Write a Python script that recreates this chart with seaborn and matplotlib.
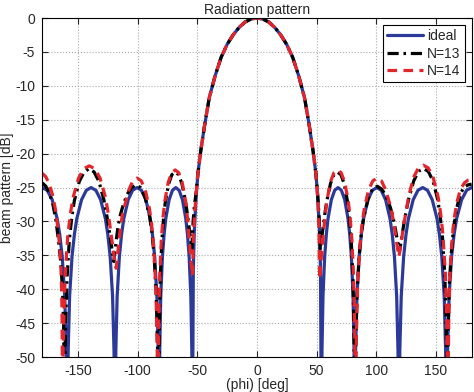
import pandas as pd
import seaborn as sns
import matplotlib.pyplot as plt

# values (phi in deg, beam pattern in dB)
ideal_phi = [-180, -175.8, -171.6, -167.4, -165.3, -163.2, -161.1, -159.84, -159,
             -158.2, -157, -155, -153, -151, -147, -143, -139, -135, -131, -127, -125, -123, -121, -119.8, -119,
             -118.26, -117.15, -115.3, -113.45, -111.6, -107.9, -104.2, -100.5, -96.8, -93.1, -89.4, -87.55,
             -85.7, -83.85, -82.74, -82,
             -81.44, -80.6, -79.2, -77.8, -76.4, -73.6, -70.8, -68, -65.2, -62.4, -59.6, -58.2, -56.8, -55.4,
             -54.56, -54,
             -53.3, -52.5, -51, -49.5, -47, -44, -40, -35, -30, -25, -20, -15, -10, -5, 0,
             5, 10, 15, 20, 25, 30, 35, 40, 44, 47, 49.5, 51, 52.5, 53.3, 54,
             54.56, 55.4, 56.8, 58.2, 59.6, 62.4, 65.2, 68, 70.8, 73.6, 76.4, 77.8, 79.2, 80.6, 81.44, 82,
             82.74, 83.85, 85.7, 87.55, 89.4, 93.1, 96.8, 100.5, 104.2, 107.9, 111.6, 113.45, 115.3, 117.15,
             118.26, 119,
             119.8, 121, 123, 125, 127, 131, 135, 139, 143, 147, 151, 153, 155, 157, 158.2, 159,
             159.84, 161.1, 163.2, 165.3, 167.4, 171.6, 175.8, 180]
ideal_db = [-25, -25.4, -26.8, -29.6, -31.9, -35.2, -41, -49, -60,
            -49, -41, -35.2, -31.9, -29.6, -26.8, -25.4, -25, -25.4, -26.8, -29.6, -31.9, -35.2, -41, -49, -60,
            -49, -41, -35.2, -31.9, -29.6, -26.8, -25.4, -25, -25.4, -26.8, -29.6, -31.9,
            -35.2, -41, -49, -60,
            -49, -41, -35.2, -31.9, -29.6, -26.8, -25.4, -25, -25.4, -26.8, -29.6, -31.9, -35.2, -41,
            -49, -60,
            -37, -31.5, -26.5, -23, -19.5, -16, -11.8, -8.5, -5.8, -3.9, -2.5, -1.4, -0.6, -0.15, 0,
            -0.15, -0.6, -1.4, -2.5, -3.9, -5.8, -8.5, -11.8, -16, -19.5, -23, -26.5, -31.5, -37, -60,
            -49, -41, -35.2, -31.9, -29.6, -26.8, -25.4, -25, -25.4, -26.8, -29.6, -31.9, -35.2, -41, -49, -60,
            -49, -41, -35.2, -31.9, -29.6, -26.8, -25.4, -25, -25.4, -26.8, -29.6, -31.9, -35.2, -41,
            -49, -60,
            -49, -41, -35.2, -31.9, -29.6, -26.8, -25.4, -25, -25.4, -26.8, -29.6, -31.9, -35.2, -41, -49, -60,
            -49, -41, -35.2, -31.9, -29.6, -26.8, -25.4, -25]

n13_phi = [-180, -177, -174, -171, -168.5, -166.5, -164.5, -163, -162, -161.3,
           -160.5, -159.2, -157.2, -155.1, -153, -148.9, -144.8, -140.6, -136.5, -132.4, -128.3, -126.2,
           -124.1, -122, -120,
           -118.1, -116.3, -114.4, -112.5, -108.8, -105, -101.3, -97.5, -93.8, -90, -88.1, -86.3, -84.4,
           -83.3, -82.5,
           -81.9, -81.1, -79.7, -78.3, -76.9, -74.1, -71.3, -68.5, -65.7, -62.9, -60.1, -58.7, -57.3,
           -55.9, -54.5,
           -53.5, -52.3, -51, -49.5, -47, -44, -40, -35, -30, -25, -20, -15, -10, -5, 0,
           5, 10, 15, 20, 25, 30, 35, 40, 44, 47, 49.5, 51, 52.2, 53,
           54.45, 55.9, 57.35, 58.8, 61.7, 64.6, 67.5, 70.4, 73.3, 76.2, 77.65, 79.1, 80.55, 81.4, 82,
           82.75, 83.9, 85.75, 87.6, 89.5, 93.25, 97, 100.75, 104.5, 108.25, 112, 113.9, 115.75, 117.6,
           119.5,
           121.5, 123.5, 125.5, 127.5, 131.5, 135.5, 139.55, 143.6, 147.6, 151.6, 153.6, 155.6, 157.6,
           158.8, 159.6,
           160.4, 161.4, 162.8, 164.8, 167.3, 170.3, 173.8, 177, 180]
n13_db = [-24.3, -24.8, -25.8, -27.5, -29.8, -32.6, -35.8, -40, -45.5, -58,
          -46, -38.4, -32.6, -29.3, -26.9, -24.1, -22.7, -22.2, -22.7, -24.1, -26.8, -28.7,
          -31, -33.5, -35.9,
          -33, -30.6, -29, -27.8, -26, -25, -24.6, -25, -26.4, -29.2, -31.5, -34.8, -40.6,
          -48.6, -58,
          -46.7, -38.7, -32.9, -29.6, -27.3, -24.5, -23.1, -22.7, -23.1, -24.4, -26.8, -28.4, -30.3,
          -32.2, -34,
          -30, -27.5, -25.8, -23, -19.5, -16, -11.8, -8.5, -5.8, -3.9, -2.5, -1.4, -0.6, -0.15, 0,
          -0.15, -0.6, -1.4, -2.5, -3.9, -5.8, -8.5, -11.8, -16, -19.5, -23, -26.2, -29.5, -34.2,
          -32.2, -30.3, -28.4, -26.8, -24.4, -23.1, -22.7, -23.1, -24.5, -27.3, -29.6, -32.9, -38.7, -46.7, -58,
          -48.8, -40.8, -35, -31.7, -29.4, -26.6, -25.2, -24.8, -25.2, -26.2, -28, -29.2, -30.8, -32.6,
          -34.5,
          -32.2, -30, -28.1, -26.5, -24, -22.6, -22.2, -22.6, -24, -26.8, -29.1, -32.4, -38.2,
          -46.2, -58,
          -45.5, -39, -35, -31, -28.2, -26, -24.9, -24.6, -24.5]

n14_phi = [-180, -177, -174, -171, -168.5, -166.5, -165, -164, -163.4, -163,
           -162.1, -160.75, -158.5, -156.25, -154, -149.5, -145, -140.5, -136, -131.5, -127, -124.75,
           -122.5, -120.25, -118,
           -116.25, -114.5, -112.75, -111, -107.5, -104, -100.5, -97, -93.5, -90, -88.25, -86.5, -84.75,
           -83.7, -83,
           -82.42, -81.55, -80.1, -78.65, -77.2, -74.3, -71.4, -68.5, -65.6, -62.7, -59.8, -58.35, -56.9,
           -55.45, -54,
           -53.2, -52, -51, -49.5, -47, -44, -40, -35, -30, -25, -20, -15, -10, -5, 0,
           5, 10, 15, 20, 25, 30, 35, 40, 44, 47, 49.5, 51, 52, 52.6,
           54.1, 55.6, 57.1, 58.6, 61.6, 64.6, 67.6, 70.6, 73.6, 76.6, 78.1, 79.6, 81.1, 82, 82.6,
           83.3, 84.4, 86.24, 88.06, 89.9, 93.5, 97.2, 100.8, 104.4, 108.1, 111.7, 113.5, 115.4, 117.2,
           119,
           121, 123.1, 125.2, 127.2, 131.3, 135.4, 139.5, 143.6, 147.7, 151.8, 153.9, 155.9, 158,
           159.2, 160,
           160.8, 161.8, 163, 165, 167.5, 170.5, 174, 177, 180]
n14_db = [-22.9, -23.4, -24.5, -26.3, -28.6, -31.5, -34.5, -38, -43, -55,
          -46, -38, -32, -28.7, -26.4, -23.6, -22.2, -21.8, -22.2, -23.6, -26.4, -28.7,
          -31.5, -34.5, -36.9,
          -34, -31, -29, -27.8, -25.4, -24, -23.6, -24, -25.4, -28.2, -30.5, -33.8, -39.6,
          -47.6, -58,
          -46.4, -38.4, -32.6, -29.3, -27, -24.2, -22.8, -22.4, -22.8, -24.2, -27, -29.3, -32.3,
          -35.5, -38,
          -32, -28.5, -26, -23, -19.5, -16, -11.8, -8.5, -5.8, -3.9, -2.5, -1.4, -0.6, -0.15, 0,
          -0.15, -0.6, -1.4, -2.5, -3.9, -5.8, -8.5, -11.8, -16, -19.5, -23, -26.5, -30.5, -38.5,
          -35, -32, -29.3, -27, -24.2, -22.8, -22.4, -22.8, -24.2, -27, -29.3, -32.6, -38.4, -46.4, -58,
          -47.6, -39.6, -33.8, -30.5, -28.2, -25.4, -24, -23.6, -24, -25.4, -27.6, -29, -31, -33.2,
          -35.2,
          -33, -30.5, -28.3, -26.3, -23.5, -22.1, -21.7, -22.1, -23.5, -26.3, -28.6, -31.9, -37.7,
          -45.7, -58,
          -45, -38, -34, -30, -27.3, -25.3, -24.3, -23.9, -23.8]

series = ['ideal', 'N=13', 'N=14']
colors = {'ideal': '#2b3a98', 'N=13': '#000000', 'N=14': '#e3262c'}
dashes = {'ideal': '', 'N=13': (3.5, 1.5, 0.8, 1.5), 'N=14': (3, 2)}

df = pd.concat([
    pd.DataFrame({'phi': ideal_phi, 'dB': ideal_db, 'series': 'ideal'}),
    pd.DataFrame({'phi': n13_phi, 'dB': n13_db, 'series': 'N=13'}),
    pd.DataFrame({'phi': n14_phi, 'dB': n14_db, 'series': 'N=14'}),
], ignore_index=True)

sns.set_style('ticks')
plt.rcParams['font.family'] = ['Liberation Sans', 'DejaVu Sans']
plt.rcParams['axes.unicode_minus'] = False

fig = plt.figure(figsize=(4.74, 3.92), dpi=100)
ax = fig.add_axes([0.089, 0.089, 0.906, 0.865])

sns.lineplot(data=df, x='phi', y='dB', hue='series', style='series',
             hue_order=series, style_order=series, palette=colors,
             dashes=dashes, linewidth=2.3, estimator=None, sort=False, ax=ax)

ax.set_xlim(-180, 180)
ax.set_ylim(-50, 0)
ax.set_xticks([-150, -100, -50, 0, 50, 100, 150])
ax.set_yticks(range(-50, 1, 5))
ax.tick_params(direction='in', top=True, right=True, labelsize=10, length=4, pad=5)
ax.grid(True, linestyle=':', color='#a8a8a8', linewidth=0.8)
for s in ax.spines.values():
    s.set_color('black')
    s.set_linewidth(0.8)

ax.set_title('Radiation pattern', fontsize=10, pad=3)
ax.set_xlabel('(phi) [deg]', fontsize=10, labelpad=0)
ax.set_ylabel('beam pattern [dB]', fontsize=10, labelpad=1)

sns.move_legend(ax, 'upper right', title=None, fontsize=10, frameon=True,
                fancybox=False, edgecolor='black', framealpha=1,
                handlelength=2.6, borderaxespad=0.5, labelspacing=0.25,
                handletextpad=0.3, borderpad=0.3)
ax.get_legend().get_frame().set_linewidth(0.8)

fig.savefig('out.png', dpi=100)
